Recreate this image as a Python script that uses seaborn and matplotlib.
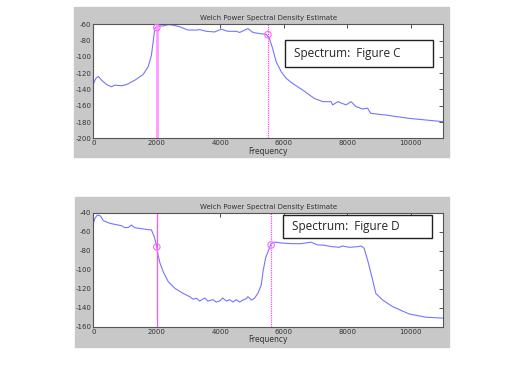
import numpy as np
import pandas as pd
import seaborn as sns
import matplotlib.pyplot as plt
from matplotlib.patches import Rectangle

# Spectrum C
freq_c = [0, 80, 160, 260, 420, 575, 680, 890, 1050, 1310, 1570, 1730, 1830,
          1885, 1937, 1990, 2100, 2200, 2360, 2510, 2720, 2980, 3250, 3350,
          3560, 3820, 4030, 4240, 4500, 4610, 4870, 5030, 5240, 5445, 5550,
          5650, 5760, 5920, 6080, 6280, 6600, 6960, 7230, 7490, 7540, 7700,
          7960, 8120, 8270, 8480, 8640, 8740, 9210, 9940, 11025]
psd_c = [-133, -126.5, -124, -128.6, -134, -136.7, -134.7, -135.5, -134, -128.6,
         -121.6, -112, -98, -81.6, -65, -63, -62, -62, -60.4, -61, -63, -67,
         -67, -66.5, -68.6, -69.4, -66, -68.6, -68.6, -70, -65.3, -70, -71.4,
         -72.2, -77.5, -89.8, -106, -118.4, -126.5, -132.7, -140.8, -151, -155,
         -155, -159, -155, -159, -155, -161, -164, -163, -169.4, -171.4,
         -175.5, -179.6]

# Spectrum D
freq_d = [0, 50, 125, 230, 315, 525, 785, 890, 995, 1100, 1200, 1310, 1520,
          1730, 1830, 1915, 1990, 2040, 2100, 2200, 2360, 2570, 2830, 3040,
          3140, 3250, 3350, 3510, 3610, 3770, 3870, 3980, 4080, 4190, 4290,
          4400, 4500, 4610, 4710, 4820, 4870, 4980, 5080, 5190, 5290, 5350,
          5430, 5600, 5710, 5970, 6280, 6540, 6860, 7070, 7220, 7540, 7750,
          7850, 8060, 8320, 8430, 8530, 8640, 8800, 8900, 9110, 9430, 9950,
          10480, 11025]
psd_d = [-51.2, -46, -42.5, -43.5, -48.4, -51.2, -53, -53.7, -55.8, -55.5, -53,
         -55.8, -56.8, -57.9, -58, -65, -74, -84.6, -93, -102, -112.6, -119.6,
         -125, -128.4, -131, -130, -133, -129.8, -133, -131.5, -134, -133,
         -129.8, -133, -131.5, -134, -131.5, -134, -132, -130.5, -128.4, -132,
         -130, -124.5, -116, -101, -87.3, -72.6, -70.9, -72, -72.6, -72.6, -71,
         -74, -74, -75.8, -76.4, -75, -76.4, -75.8, -75, -77.4, -89.8, -110.9,
         -125, -131.8, -138.9, -146.6, -150, -151]

cut_c = [2000, 5500]
cut_c_psd = [-64, -72.7]
cut_d = [2000, 5600]
cut_d_psd = [-76, -74]

sns.set_style("white")
plt.rcParams['font.family'] = ['DejaVu Sans']
plt.rcParams['axes.unicode_minus'] = False

fig = plt.figure(figsize=(5.29, 3.81), dpi=100)

grey = "#c8c8c8"
fig.patches.append(Rectangle((74 / 529, 1 - 157 / 381), 375 / 529, 150 / 381,
                             transform=fig.transFigure, color=grey, zorder=-5))
fig.patches.append(Rectangle((75 / 529, 1 - 347 / 381), 374 / 529, 150 / 381,
                             transform=fig.transFigure, color=grey, zorder=-5))

ax_c = fig.add_axes([0.1764, 0.637, 0.6616, 0.2992])
ax_d = fig.add_axes([0.1764, 0.1425, 0.6616, 0.2992])

panels = [
    (ax_c, freq_c, psd_c, cut_c, cut_c_psd, (-200, -60), range(-200, -59, 20),
     "Spectrum:  Figure C", (285, 40, 433, 67)),
    (ax_d, freq_d, psd_d, cut_d, cut_d_psd, (-160, -40), range(-160, -39, 20),
     "Spectrum:  Figure D", (283, 215, 432, 238)),
]

for ax, f, p, cuts, cut_psd, ylim, yticks, label, box in panels:
    df = pd.DataFrame({"Frequency": f, "PSD": p})
    sns.lineplot(data=df, x="Frequency", y="PSD", ax=ax, color="#7575ff",
                 linewidth=0.8)
    if ax is ax_c:
        ax.axvline(cuts[0], color="#ff99ff", linewidth=2.0)
    else:
        ax.axvline(cuts[0], color="#ff55ff", linewidth=0.9)
    ax.axvline(cuts[1], color="#ff44ff", linewidth=0.9,
               linestyle=(0, (1, 0.8)))
    ax.scatter(cuts, cut_psd, s=22, facecolors="none", edgecolors="#ff66ff",
               linewidths=0.8, zorder=5)
    ax.set_xlim(0, 11025)
    ax.set_ylim(*ylim)
    ax.set_xticks([0, 2000, 4000, 6000, 8000, 10000])
    ax.set_yticks(list(yticks))
    ax.tick_params(direction="in", length=3, width=0.6, labelsize=5,
                   colors="#333333", top=True, right=True, pad=1.5)
    for s in ax.spines.values():
        s.set_color("#555555")
        s.set_linewidth(0.8)
    ax.set_xlabel("Frequency", fontsize=5.5, labelpad=0.5, color="#333333")
    ax.set_ylabel("")
    ax.set_title("Welch Power Spectral Density Estimate", fontsize=5,
                 pad=3, color="#333333")
    x0, y0, x1, y1 = box
    fig.patches.append(Rectangle((x0 / 529, 1 - y1 / 381), (x1 - x0) / 529,
                                 (y1 - y0) / 381, transform=fig.transFigure,
                                 facecolor="white", edgecolor="#222222",
                                 linewidth=1.0, zorder=10))
    fig.text((x0 + 9) / 529, 1 - (y0 + y1) / 2 / 381, label, fontsize=8.5,
             family=["Open Sans", "DejaVu Sans"], va="center", ha="left",
             zorder=11)

fig.savefig("out.png", dpi=100)
